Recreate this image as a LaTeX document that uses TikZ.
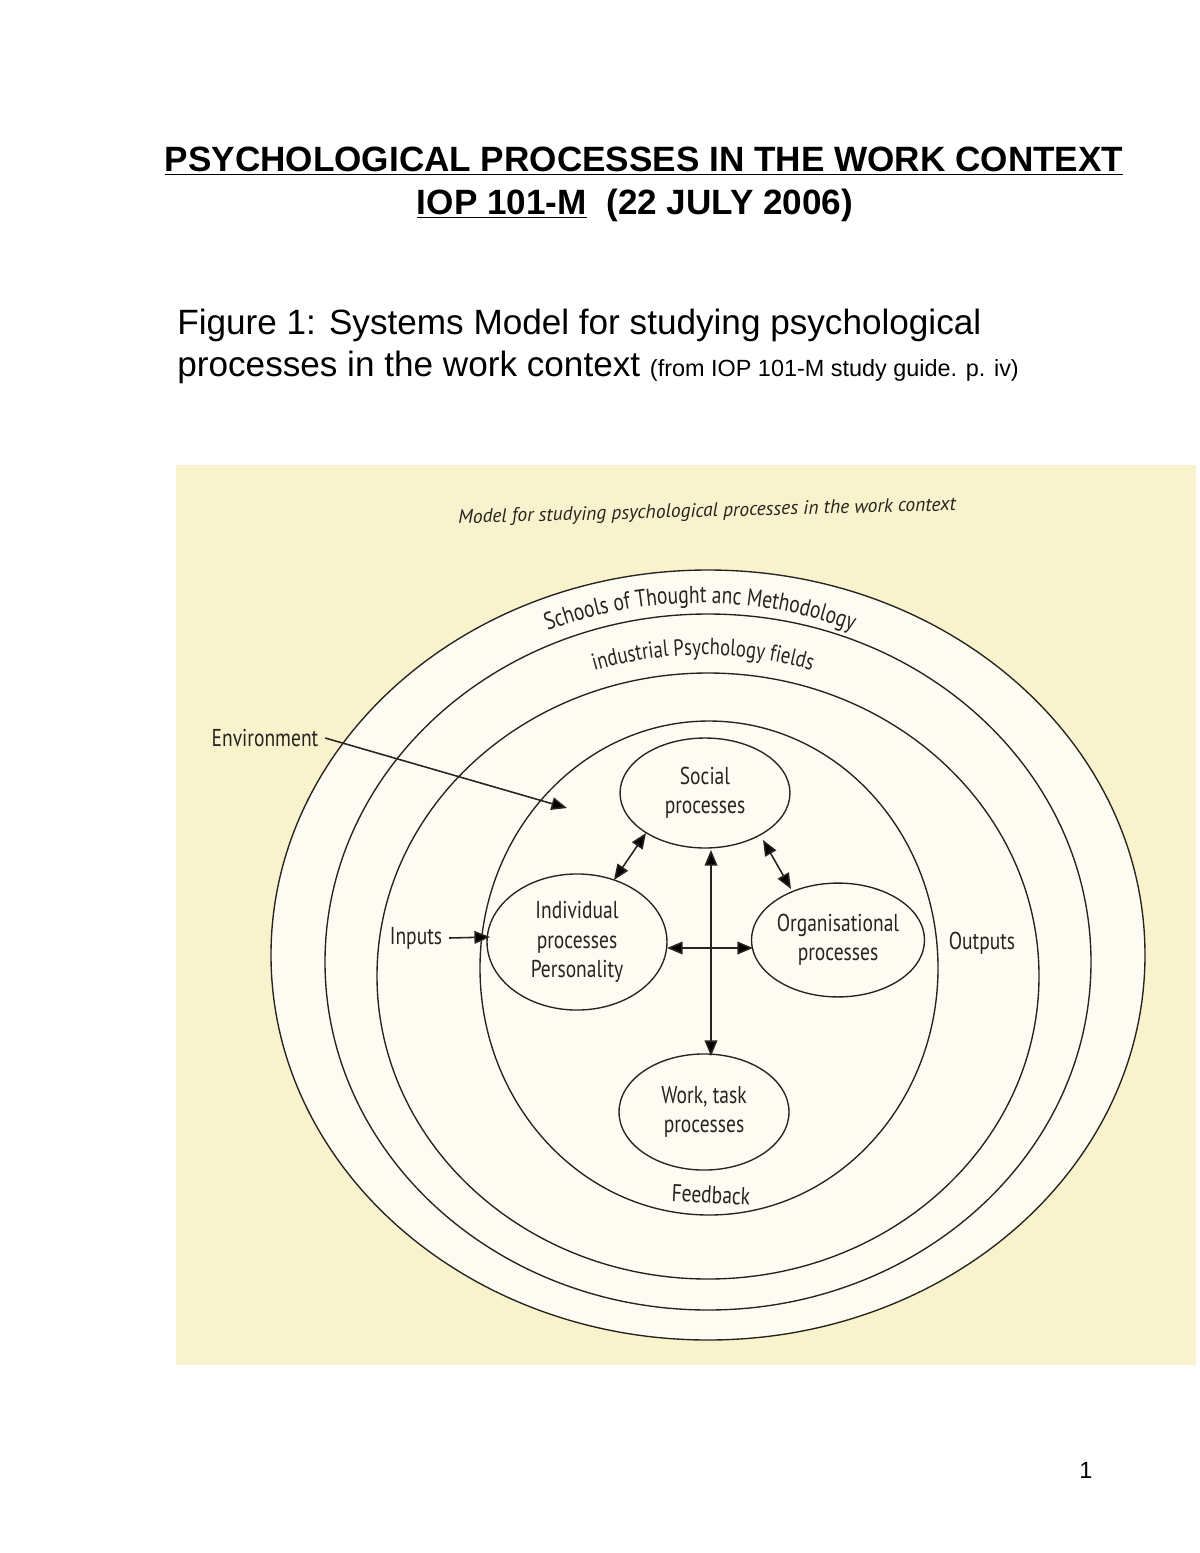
\documentclass[tikz,border=0pt]{standalone}
\usepackage{fontspec}
\setmainfont{Liberation Sans}
\newfontfamily\gill{PT Sans}
\newfontfamily\gilln[FakeStretch=0.8]{PT Sans}
\usetikzlibrary{arrows.meta,decorations.text,shapes.geometric}
\definecolor{paper}{RGB}{248,242,205}
\definecolor{ink}{RGB}{40,35,30}
\tikzset{
  ring/.style={draw=ink,line width=0.7pt},
  proc/.style={ellipse,draw=ink,line width=0.7pt,align=center,inner sep=0pt,font=\gilln\fontsize{12.5}{15}\selectfont,text=ink},
  lab/.style={font=\gilln\fontsize{12.5}{15}\selectfont,text=ink},
  arr/.style={draw=ink,line width=0.8pt},
  tip/.tip={Triangle[length=8pt,width=6.5pt]}
}
\begin{document}
\begin{tikzpicture}[x=0.018cm,y=0.018cm]
\useasboundingbox (0,0) rectangle (1200,-1553);
\fill[white] (0,0) rectangle (1200,-1553);
% titles
\node[font=\bfseries\fontsize{18}{21}\selectfont] (t1) at (644,-161) {\underline{PSYCHOLOGICAL PROCESSES IN THE WORK CONTEXT}};
\node[font=\bfseries\fontsize{18}{21}\selectfont] (t2) at (635,-205) {\underline{IOP 101-M}\ \ (22 JULY 2006)};
\node[anchor=west,font=\fontsize{18}{21}\selectfont,inner sep=0pt] (f1) at (177,-325) {Figure 1: Systems Model for studying psychological};
\node[anchor=west,font=\fontsize{18}{21}\selectfont,inner sep=0pt] (f2) at (177,-367) {processes in the work context {\fontsize{12}{14}\selectfont (from IOP 101-M study guide. p. iv)}};
\node[font=\fontsize{12}{14}\selectfont] (pg) at (1086,-1470) {1};
% background
\fill[paper] (176,-465) rectangle (1196,-1365);
\fill[white!75!paper] (708,-955) ellipse [x radius=437, y radius=385];
\node[font=\gill\itshape\fontsize{10}{12}\selectfont,text=ink,rotate=1.5] (mt) at (707,-512) {Model for studying psychological processes in the work context};
% rings
\draw[ring] (708,-955) ellipse [x radius=437, y radius=385];
\draw[ring] (708,-962) ellipse [x radius=383, y radius=348];
\draw[ring] (708,-976) ellipse [x radius=331, y radius=303];
\draw[ring] (709,-968) ellipse [x radius=229, y radius=247];
% arc texts
\path[decorate,decoration={text along path,text align=center,text color=ink,
  text={|\gilln\fontsize{12.5}{15}\selectfont|Schools of Thought anc Methodology}}]
  (700,-955) ++(160:392 and 352) arc [start angle=160,end angle=20,x radius=392,y radius=352];
\path[decorate,decoration={text along path,text align=center,text color=ink,
  text={|\gilln\fontsize{12}{15}\selectfont|industrial Psychology fields}}]
  (703,-960) ++(155:345 and 305) arc [start angle=155,end angle=25,x radius=345,y radius=305];
% processes
\node[proc,minimum width=3.06cm,minimum height=1.98cm] (soc) at (705,-793) {Social\\processes};
\node[proc,minimum width=3.24cm,minimum height=2.45cm] (ind) at (577,-942) {Individual\\processes\\Personality};
\node[proc,minimum width=3.06cm,minimum height=2.05cm] (org) at (838,-940) {Organisational\\processes};
\node[proc,minimum width=3.06cm,minimum height=2.09cm] (work) at (704,-1112) {Work, task\\processes};
% labels
\node[lab] (env) at (265,-738) {Environment};
\node[lab] (inp) at (416,-938) {Inputs};
\node[lab] (outp) at (982,-943) {Outputs};
\node[lab,rotate=-3] (fb) at (711,-1195) {Feedback};
\coordinate (envend) at (567,-808);
\coordinate (inpend) at (490,-937);
\coordinate (vtop) at (711,-850);
\coordinate (vbot) at (711,-1056);
\coordinate (hl) at (667,-948);
\coordinate (hr) at (753,-948);
\coordinate (s1) at (646,-833);
\coordinate (i1) at (614,-880);
\coordinate (s2) at (763,-840);
\coordinate (o2) at (791,-889);
% connectors
\draw[arr,-tip] (env.east) -- (envend);
\draw[arr,-tip] (inp.east) -- (inpend);
\draw[arr,tip-tip] (vtop) -- (vbot);
\draw[arr,tip-tip] (hl) -- (hr);
\draw[arr,tip-tip] (s1) -- (i1);
\draw[arr,tip-tip] (s2) -- (o2);
\end{tikzpicture}
\end{document}
